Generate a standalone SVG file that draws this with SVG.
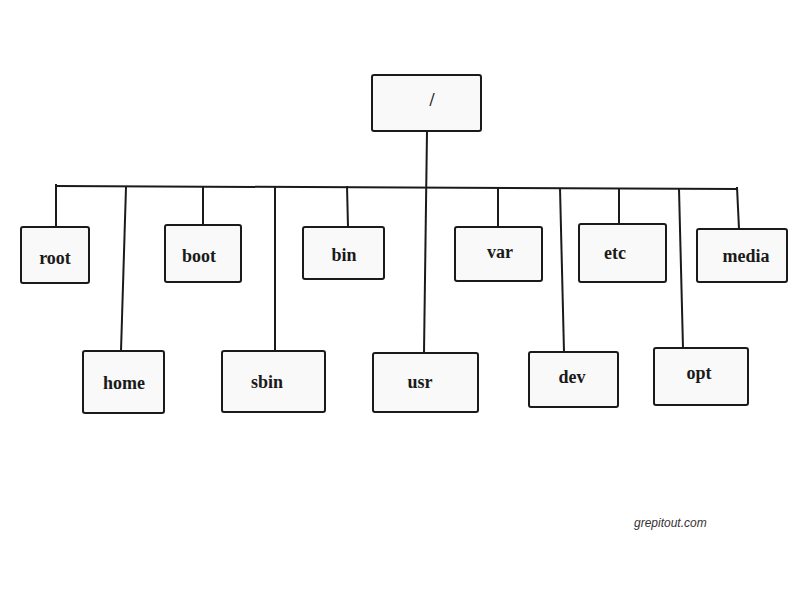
<svg xmlns="http://www.w3.org/2000/svg" width="800" height="600" viewBox="0 0 800 600">
<style>
.box{fill:#f9f9f9;stroke:#1a1a1a;stroke-width:2}
.lbl{font-family:"Liberation Serif",serif;font-weight:bold;font-size:18px;fill:#1a1a1a;text-anchor:middle}
.ln{stroke:#1a1a1a;stroke-width:2;fill:none}
</style>
<rect width="800" height="600" fill="#ffffff"/>
<g id="connectors">
<line class="ln" x1="56" y1="186" x2="738" y2="189"/>
<line class="ln" x1="56" y1="184" x2="56" y2="227"/>
<line class="ln" x1="427" y1="131" x2="424" y2="353"/>
<line class="ln" x1="126" y1="187" x2="121" y2="351"/>
<line class="ln" x1="203" y1="187" x2="203" y2="225"/>
<line class="ln" x1="275" y1="186" x2="275" y2="351"/>
<line class="ln" x1="347" y1="186" x2="348" y2="227"/>
<line class="ln" x1="498" y1="188" x2="498" y2="227"/>
<line class="ln" x1="560" y1="188" x2="564" y2="352"/>
<line class="ln" x1="619" y1="189" x2="619" y2="224"/>
<line class="ln" x1="679" y1="189" x2="683" y2="348"/>
<line class="ln" x1="737" y1="187" x2="739" y2="229"/>
</g>
<g id="node-root-dir"><rect class="box" x="372" y="75" width="109" height="56" rx="2"/><text class="lbl" x="432" y="106">/</text></g>
<g id="node-root"><rect class="box" x="21" y="227" width="68" height="56" rx="2"/><text class="lbl" x="55" y="264">root</text></g>
<g id="node-boot"><rect class="box" x="165" y="225" width="76" height="57" rx="2"/><text class="lbl" x="199" y="262">boot</text></g>
<g id="node-bin"><rect class="box" x="303" y="227" width="81" height="52" rx="2"/><text class="lbl" x="344" y="261">bin</text></g>
<g id="node-var"><rect class="box" x="455" y="227" width="87" height="54" rx="2"/><text class="lbl" x="500" y="258">var</text></g>
<g id="node-etc"><rect class="box" x="579" y="224" width="87" height="58" rx="2"/><text class="lbl" x="615" y="259">etc</text></g>
<g id="node-media"><rect class="box" x="697" y="229" width="90" height="53" rx="2"/><text class="lbl" x="746" y="262">media</text></g>
<g id="node-home"><rect class="box" x="83" y="351" width="81" height="62" rx="2"/><text class="lbl" x="124" y="389">home</text></g>
<g id="node-sbin"><rect class="box" x="222" y="351" width="103" height="61" rx="2"/><text class="lbl" x="267" y="388">sbin</text></g>
<g id="node-usr"><rect class="box" x="373" y="353" width="105" height="59" rx="2"/><text class="lbl" x="420" y="388">usr</text></g>
<g id="node-dev"><rect class="box" x="529" y="352" width="89" height="55" rx="2"/><text class="lbl" x="572" y="383">dev</text></g>
<g id="node-opt"><rect class="box" x="654" y="348" width="94" height="57" rx="2"/><text class="lbl" x="699" y="379">opt</text></g>
<text x="634" y="527" font-family="'Liberation Sans',Arial,sans-serif" font-style="italic" font-size="12" fill="#333333">grepitout.com</text>
</svg>
